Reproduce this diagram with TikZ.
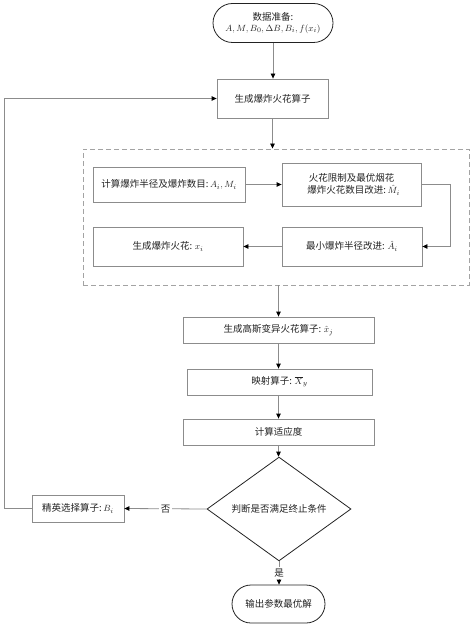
\documentclass[tikz,border=0pt]{standalone}
\usepackage{fontspec}
\setmainfont{Liberation Serif}
\newfontfamily\cjk{Noto Sans CJK SC}
\usetikzlibrary{arrows.meta,shapes.geometric,shapes.misc}
\definecolor{ln}{HTML}{8C8C8C}
\definecolor{tx}{HTML}{222222}
\tikzset{
  every node/.style={font=\cjk\fontsize{9.5}{12}\selectfont, text=tx},
  box/.style={draw=ln, line width=0.8pt, rectangle, inner sep=0pt, align=center},
  term/.style={draw=tx, line width=0.8pt, rounded rectangle, inner sep=0pt, align=center},
  dec/.style={draw=tx, line width=0.8pt, diamond, inner sep=0pt},
  conn/.style={draw=ln, line width=0.8pt},
  arr/.style={conn, -{Triangle[length=5pt,width=4.5pt,color=black]}},
  lbl/.style={fill=white, inner sep=1.5pt}
}
\begin{document}
\begin{tikzpicture}[x=1pt,y=-1pt]
\useasboundingbox (0,0) rectangle (474,628);
\node[term, minimum width=120pt, minimum height=39pt] (b0) at (273,23)
  {数据准备:\\[-1pt]$A, M, B_0, \Delta B, B_i, f(x_i)$};
\node[box, minimum width=111pt, minimum height=39pt] (b1) at (272.5,98.5) {生成爆炸火花算子};
\node[draw=ln!80, dashed, line width=0.9pt, dash pattern=on 5pt off 3pt, minimum width=386pt, minimum height=136pt, inner sep=0pt] (dash) at (276,217) {};
\node[box, minimum width=152pt, minimum height=35pt] (c1) at (169,184.5) {计算爆炸半径及爆炸数目:\,$A_i, M_i$};
\node[box, minimum width=139pt, minimum height=43pt] (c2) at (351.5,184.5) {火花限制及最优烟花\\\ \ 爆炸火花数目改进:\,$\hat{M}_i$};
\node[box, minimum width=140pt, minimum height=39pt] (c3) at (352,246.5) {最小爆炸半径改进:\;$\hat{A}_i$};
\node[box, minimum width=150pt, minimum height=39pt] (c4) at (168,246.5) {生成爆炸火花:\;$x_i$};
\node[box, minimum width=191pt, minimum height=26pt] (d1) at (278.5,330) {生成高斯变异火花算子:\;$\hat{x}_j$};
\node[box, minimum width=185pt, minimum height=26pt] (d2) at (279.5,382) {映射算子:\;$\overline{X}_y$};
\node[box, minimum width=191pt, minimum height=26pt] (d3) at (278.5,432) {计算适应度};
\node[dec, minimum width=144pt, minimum height=78pt] (dia) at (279,509) {判断是否满足终止条件};
\node[box, minimum width=92pt, minimum height=27pt] (e) at (78,508.5) {精英选择算子:\,$B_i$};
\node[term, minimum width=93pt, minimum height=38pt] (end) at (278.5,604) {输出参数最优解};
\coordinate (loopr) at (450,184.5);
\coordinate (fbl) at (4,508.5);
\draw[arr] (b0.south) -- (b0.south |- b1.north);
\draw[arr] (b1.south) -- (b1.south |- dash.north);
\draw[arr] (c1.east) -- (c2.west);
\draw[arr] (c2.east) -- (loopr) |- (c3.east);
\draw[arr] (c3.west) -- (c4.east);
\draw[arr] (d1.north |- dash.south) -- (d1.north);
\draw[arr] (d1.south) -- (d1.south |- d2.north);
\draw[arr] (d2.south -| d3.north) -- (d3.north);
\draw[arr] (d3.south) -- (d3.south |- dia.north);
\draw[arr] (dia.west) -- node[lbl, pos=0.5] {否} (e.east);
\draw[arr] (dia.south) -- node[lbl, pos=0.5] {是} (dia.south |- end.north);
\draw[arr] (e.west) -- (fbl) |- (b1.west);
\end{tikzpicture}
\end{document}
